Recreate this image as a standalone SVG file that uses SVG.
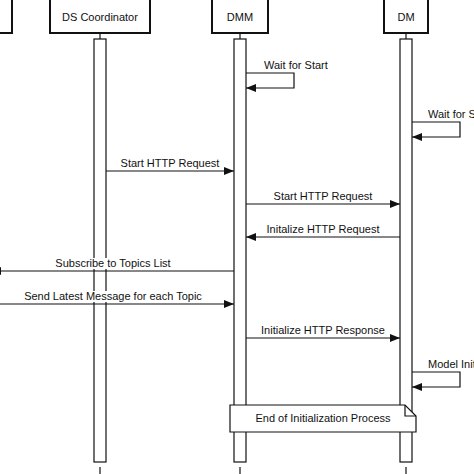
<svg xmlns="http://www.w3.org/2000/svg" width="474" height="474" viewBox="0 0 474 474">
<defs>
<style>
text{font-family:"Liberation Sans",Arial,sans-serif;font-size:11px;fill:#111}
.hd{fill:#fff;stroke:#111;stroke-width:2}
.act{fill:#fff;stroke:#111;stroke-width:1.2}
.ln{fill:none;stroke:#111;stroke-width:1.2}
.msg{fill:none;stroke:#111;stroke-width:1.2;marker-end:url(#ah)}
.bg{fill:#fff}
.c{text-anchor:middle}
</style>
<marker id="ah" viewBox="0 0 10 8" refX="10" refY="4" markerWidth="10" markerHeight="8" markerUnits="userSpaceOnUse" orient="auto">
<path d="M0,0 L10,4 L0,8 Z" fill="#111"/>
</marker>
</defs>
<rect width="474" height="474" fill="#fff"/>

<g id="participant-left">
<rect class="hd" x="-40" y="-2" width="52" height="35"/>
</g>
<g id="ds-coordinator">
<rect class="hd" x="50" y="-2" width="100" height="35"/>
<text class="c" x="100" y="21">DS Coordinator</text>
<line class="ln" x1="100" y1="33" x2="100" y2="39"/>
<rect class="act" x="94" y="39" width="12" height="423"/>
<line class="ln" x1="100" y1="467" x2="100" y2="476"/>
</g>
<g id="dmm">
<rect class="hd" x="212" y="-2" width="56" height="35"/>
<text class="c" x="240" y="21">DMM</text>
<line class="ln" x1="240" y1="33" x2="240" y2="39"/>
<rect class="act" x="234" y="39" width="12" height="423"/>
<line class="ln" x1="240" y1="467" x2="240" y2="476"/>
</g>
<g id="dm">
<rect class="hd" x="384" y="-2" width="44" height="35"/>
<text class="c" x="406" y="21">DM</text>
<line class="ln" x1="406" y1="33" x2="406" y2="39"/>
<rect class="act" x="400" y="39" width="12" height="423"/>
<line class="ln" x1="406" y1="467" x2="406" y2="476"/>
</g>

<g id="connectors">
<path class="msg" d="M246,73 H294 V88 H246"/>
<text x="264" y="69">Wait for Start</text>
<path class="msg" d="M412,122 H460 V137 H412"/>
<text x="428" y="118">Wait for Start</text>
<line class="msg" x1="106" y1="171" x2="234" y2="171"/>
<text class="c" x="170" y="167">Start HTTP Request</text>
<line class="msg" x1="246" y1="204" x2="400" y2="204"/>
<text class="c" x="323" y="200">Start HTTP Request</text>
<line class="msg" x1="400" y1="237" x2="246" y2="237"/>
<text class="c" x="323" y="233">Initalize HTTP Request</text>
<line class="msg" x1="234" y1="271" x2="-9" y2="271"/>
<rect class="bg" x="56" y="258" width="114" height="11"/>
<text class="c" x="113" y="267">Subscribe to Topics List</text>
<line class="msg" x1="-10" y1="304" x2="234" y2="304"/>
<rect class="bg" x="26" y="291" width="174" height="11"/>
<text class="c" x="113" y="300">Send Latest Message for each Topic</text>
<line class="msg" x1="246" y1="338" x2="400" y2="338"/>
<text class="c" x="323" y="334">Initialize HTTP Response</text>
<path class="msg" d="M412,372 H460 V387 H412"/>
<text x="428" y="368">Model Initialization</text>
</g>

<g id="note-end">
<path class="act" d="M230,405 H405 L416,416 V432 H230 Z"/>
<path class="ln" d="M405,405 V416 H416"/>
<text class="c" x="323" y="422">End of Initialization Process</text>
</g>
</svg>
